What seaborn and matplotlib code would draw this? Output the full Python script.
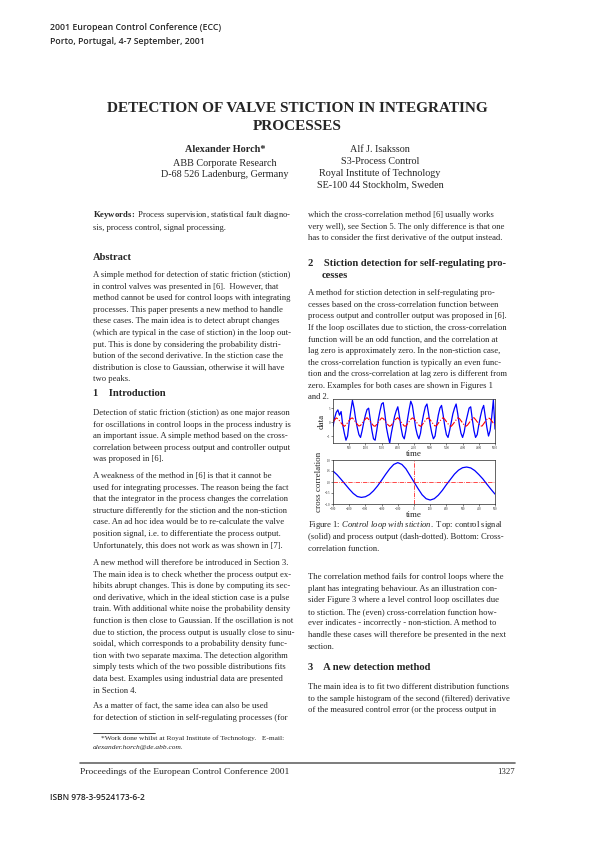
import numpy as np
import pandas as pd
import matplotlib.pyplot as plt
import seaborn as sns

# figure 1 data
tempo = list(range(0, 5001, 50))
sinal_controle = [-1.5, 1.5, 3.5, 4.4, 2.5, 3.8, -1, -4, -6.5, -5, 0, 4, 7.8, 5, 1, -2, -4.5, -5.5, -3, 0,
                  2.5, 4.5, 5, 1, -3, -6, -6.5, -3, 1, 4, 6.5, 7, 3, -2, -5, -7.5, -4, -1, 2, 4,
                  5.5, 2, -2, -5, -6, -3, 1, 4.5, 7.5, 6, 2, -2, -4.5, -6, -4, 0, 3, 5.5, 6.5, 3,
                  -1, -4, -6, -5, -1, 2.5, 5, 6, 2.5, -1.5, -4.5, -5.5, -3, 0, 3, 5, 6.5, 3, -1, -4,
                  -5.5, -3.5, 0, 2.5, 5, 5.5, 1, -3, -5.5, -4.5, -1, 2, 4.5, 6, 2, -2, -5, -3, 2, 8, -2.5]
saida_processo = [0, 0.8, 1.5, 1.2, 0.5, -0.3, -1.0, -1.5, -1.0, -0.2, 0.6, 1.3, 1.5, 0.8, 0, -0.8,
                  -1.4, -1.2, -0.4, 0.4, 1.1, 1.6, 1.0, 0.2, -0.6, -1.3, -1.5, -0.8, 0, 0.8, 1.5, 1.3,
                  0.5, -0.3, -1.0, -1.5, -1.1, -0.3, 0.5, 1.2, 1.6, 0.9, 0.1, -0.7, -1.4, -1.4, -0.6, 0.2,
                  1.0, 1.5, 1.2, 0.4, -0.4, -1.1, -1.5, -1.0, -0.2, 0.6, 1.3, 1.5, 0.8, 0, -0.8, -1.4,
                  -1.2, -0.4, 0.4, 1.1, 1.6, 1.0, 0.2, -0.6, -1.3, -1.5, -0.8, 0, 0.8, 1.5, 1.3, 0.5,
                  -0.3, -1.0, -1.5, -1.1, -0.3, 0.5, 1.2, 1.6, 0.9, 0.1, -0.7, -1.4, -1.4, -0.6, 0.2, 1.0,
                  1.5, 1.2, 0.4, -0.4, -1.0]
lags = list(range(-500, 501, 25))
correlacao = [0.5, 0.33, 0.12, -0.1, -0.32, -0.52, -0.66, -0.7, -0.67, -0.57, -0.4, -0.18, 0.08, 0.35,
              0.6, 0.8, 0.88, 0.8, 0.6, 0.3, 0.0, -0.3, -0.58, -0.76, -0.82, -0.76, -0.6, -0.38, -0.12,
              0.12, 0.36, 0.54, 0.65, 0.68, 0.64, 0.52, 0.34, 0.14, -0.1, -0.33, -0.55]

sns.set_style('ticks')
plt.rcParams['font.family'] = ['Liberation Serif', 'DejaVu Serif']
plt.rcParams['mathtext.fontset'] = 'custom'
plt.rcParams['mathtext.rm'] = 'Liberation Serif'
plt.rcParams['mathtext.it'] = 'Liberation Serif:italic'
plt.rcParams['mathtext.bf'] = 'Liberation Serif:bold'

W, H = 595, 842
fig = plt.figure(figsize=(W / 100, H / 100), dpi=100)
fs = 6.25
lh = 11.6


def txt(x, y, s, **kw):
    kw.setdefault('fontsize', fs)
    fig.text(x / W, 1 - y / H, s, va='center', **kw)


def bloco(x, y, linhas, **kw):
    for i, l in enumerate(linhas):
        txt(x, y + i * lh, l, **kw)


# cabecalho
sans = ['Open Sans', 'DejaVu Sans']
txt(50, 28, '2001 European Control Conference (ECC)', family=sans, fontsize=6.3, weight='semibold')
txt(50, 41, 'Porto, Portugal, 4-7 September, 2001', family=sans, fontsize=6.3, weight='semibold')

txt(297, 108, 'DETECTION OF VALVE STICTION IN INTEGRATING', ha='center', fontsize=11, weight='bold')
txt(297, 127, 'PROCESSES', ha='center', fontsize=11, weight='bold')

txt(225, 150, 'Alexander Horch*', ha='center', fontsize=7.3, weight='bold')
bloco(225, 163, ['ABB Corporate Research', 'D-68 526 Ladenburg, Germany'], ha='center', fontsize=7.3)
bloco(380, 150, ['Alf J. Isaksson', 'S3-Process Control', 'Royal Institute of Technology',
                 'SE-100 44 Stockholm, Sweden'], ha='center', fontsize=7.3)

L, R = 93, 308
txt(L, 215, r'$\mathbf{Keywords:}$ Process supervision, statistical fault diagno-')
txt(L, 228, 'sis, process control, signal processing.')
txt(L, 257, 'Abstract', fontsize=7.6, weight='bold')
bloco(L, 275, [
    'A simple method for detection of static friction (stiction)',
    'in control valves was presented in [6].  However, that',
    'method cannot be used for control loops with integrating',
    'processes. This paper presents a new method to handle',
    'these cases. The main idea is to detect abrupt changes',
    '(which are typical in the case of stiction) in the loop out-',
    'put. This is done by considering the probability distri-',
    'bution of the second derivative. In the stiction case the',
    'distribution is close to Gaussian, otherwise it will have',
    'two peaks.'])
txt(L, 394, '1    Introduction', fontsize=7.6, weight='bold')
bloco(L, 413, [
    'Detection of static friction (stiction) as one major reason',
    'for oscillations in control loops in the process industry is',
    'an important issue. A simple method based on the cross-',
    'correlation between process output and controller output',
    'was proposed in [6].'])
bloco(L, 476, [
    'A weakness of the method in [6] is that it cannot be',
    'used for integrating processes. The reason being the fact',
    'that the integrator in the process changes the correlation',
    'structure differently for the stiction and the non-stiction',
    'case. An ad hoc idea would be to re-calculate the valve',
    'position signal, i.e. to differentiate the process output.',
    'Unfortunately, this does not work as was shown in [7].'])
bloco(L, 563, [
    'A new method will therefore be introduced in Section 3.',
    'The main idea is to check whether the process output ex-',
    'hibits abrupt changes. This is done by computing its sec-',
    'ond derivative, which in the ideal stiction case is a pulse',
    'train. With additional white noise the probability density',
    'function is then close to Gaussian. If the oscillation is not',
    'due to stiction, the process output is usually close to sinu-',
    'soidal, which corresponds to a probability density func-',
    'tion with two separate maxima. The detection algorithm',
    'simply tests which of the two possible distributions fits',
    'data best. Examples using industrial data are presented',
    'in Section 4.'])
bloco(L, 706, [
    'As a matter of fact, the same idea can also be used',
    'for detection of stiction in self-regulating processes (for'])
fig.add_artist(plt.Line2D([L / W, 155 / W], [1 - 733 / H] * 2, color='k', lw=0.5))
txt(L + 8, 738, '*Work done whilst at Royal Institute of Technology.   E-mail:', fontsize=5.3)
txt(L, 748, 'alexander.horch@de.abb.com.', fontsize=5.3, style='italic')

bloco(R, 215, [
    'which the cross-correlation method [6] usually works',
    'very well), see Section 5. The only difference is that one',
    'has to consider the first derivative of the output instead.'])
txt(R, 263, '2    Stiction detection for self-regulating pro-', fontsize=7.6, weight='bold')
txt(R + 14, 275, 'cesses', fontsize=7.6, weight='bold')
bloco(R, 293, [
    'A method for stiction detection in self-regulating pro-',
    'cesses based on the cross-correlation function between',
    'process output and controller output was proposed in [6].',
    'If the loop oscillates due to stiction, the cross-correlation',
    'function will be an odd function, and the correlation at',
    'lag zero is approximately zero. In the non-stiction case,',
    'the cross-correlation function is typically an even func-',
    'tion and the cross-correlation at lag zero is different from',
    'zero. Examples for both cases are shown in Figures 1',
    'and 2.'])
txt(R, 525, r'Figure 1: $\mathit{Control\ loop\ with\ stiction.}$ Top: control signal')
bloco(R, 537, ['(solid) and process output (dash-dotted). Bottom: Cross-',
               'correlation function.'])
bloco(R, 577, [
    'The correlation method fails for control loops where the',
    'plant has integrating behaviour. As an illustration con-',
    'sider Figure 3 where a level control loop oscillates due',
    'to stiction. The (even) cross-correlation function how-',
    'ever indicates - incorrectly - non-stiction. A method to',
    'handle these cases will therefore be presented in the next',
    'section.'])
txt(R, 668, '3    A new detection method', fontsize=7.6, weight='bold')
bloco(R, 687, [
    'The main idea is to fit two different distribution functions',
    'to the sample histogram of the second (filtered) derivative',
    'of the measured control error (or the process output in'])

# rodape
fig.add_artist(plt.Line2D([80 / W, 515 / W], [1 - 763 / H] * 2, color='0.4', lw=1.2))
txt(80, 772, 'Proceedings of the European Control Conference 2001', fontsize=6.8)
txt(515, 772, '1327', ha='right', fontsize=6.3)
txt(50, 797, 'ISBN 978-3-9524173-6-2', family=sans, fontsize=6.0, weight='semibold')

# figura 1
df_top = pd.DataFrame({'time': tempo, 'u': sinal_controle, 'y': saida_processo})
df_bot = pd.DataFrame({'lag': lags, 'r': correlacao})

ax1 = fig.add_axes([333 / W, 1 - 443 / H, 162 / W, 44 / H])
sns.lineplot(data=df_top, x='time', y='u', ax=ax1, color='blue', lw=0.9)
sns.lineplot(data=df_top, x='time', y='y', ax=ax1, color='red', lw=0.8, linestyle='-.')
ax1.set_xlim(0, 5000)
ax1.set_ylim(-7.5, 8.3)
ax1.set_xticks(range(500, 5001, 500))
ax1.set_yticks([-5, 0, 5])
ax1.set_xlabel('time', fontsize=6.5, labelpad=0)
ax1.set_ylabel('data', fontsize=6.5, labelpad=1)

ax2 = fig.add_axes([333 / W, 1 - 504 / H, 162 / W, 44 / H])
sns.lineplot(data=df_bot, x='lag', y='r', ax=ax2, color='blue', lw=0.9)
ax2.axhline(0, color='red', lw=0.5, ls='-.')
ax2.axvline(0, color='red', lw=0.5, ls='-.')
ax2.set_xlim(-500, 500)
ax2.set_ylim(-1, 1)
ax2.set_xticks(range(-500, 501, 100))
ax2.set_yticks([-1, -0.5, 0, 0.5, 1])
ax2.set_xlabel('time', fontsize=6.5, labelpad=0)
ax2.set_ylabel('cross correlation', fontsize=6.5, labelpad=1)

for ax in (ax1, ax2):
    ax.tick_params(labelsize=2.2, length=1.2, width=0.4, pad=0.8)
    for s in ax.spines.values():
        s.set_linewidth(0.5)
        s.set_visible(True)

plt.savefig('out.png', dpi=100)
plt.close()
